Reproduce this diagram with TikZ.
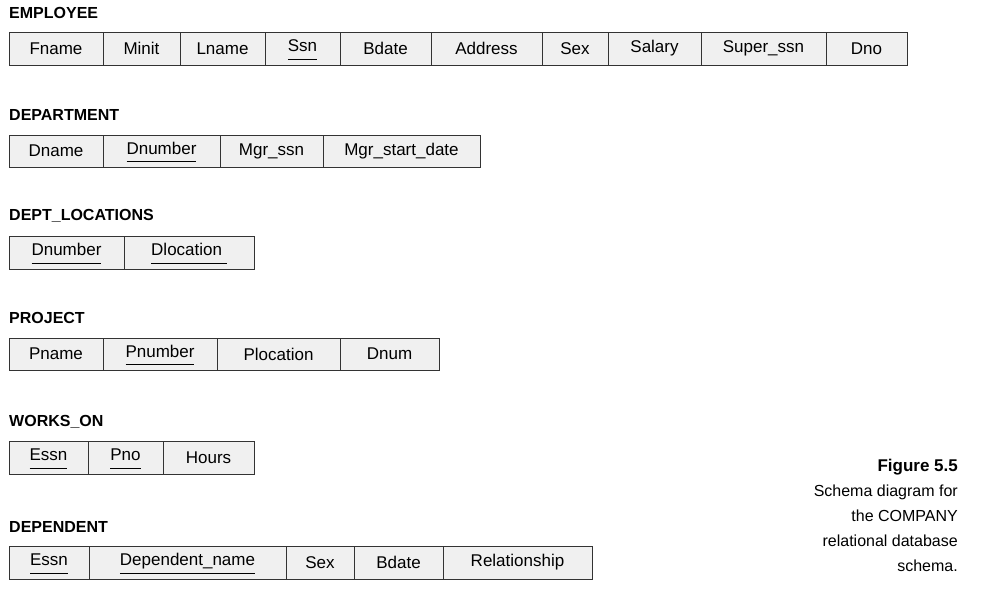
\documentclass[tikz,border=0pt]{standalone}
\usepackage{fontspec}
\setmainfont{Liberation Sans}
\usetikzlibrary{positioning}
\tikzset{
  cell/.style={draw=black!80,fill=black!6,line width=0.8pt},
  celltext/.style={font=\fontsize{17}{20}\selectfont,inner sep=0pt},
  title/.style={font=\bfseries\fontsize{16}{19}\selectfont,anchor=west,inner sep=0pt},
  capt/.style={font=\fontsize{16}{25}\selectfont,align=right,anchor=north east,inner sep=0pt}
}
\newcommand{\key}[1]{\underline{#1\strut}}
\begin{document}
\begin{tikzpicture}[x=1pt,y=-1pt]
    \useasboundingbox (0,0) rectangle (984,600);

    % Relation titles
    \node[title] (emp)  at (9,13)  {EMPLOYEE};
    \node[title] (dept) at (9,115) {DEPARTMENT};
    \node[title] (dloc) at (9,216) {DEPT\_LOCATIONS};
    \node[title] (proj) at (9,318) {PROJECT};
    \node[title] (work) at (9,422) {WORKS\_ON};
    \node[title] (depd) at (9,527) {DEPENDENT};

    % Rows of attributes: left/right edge/text
    \foreach \xa/\xb/\txt [count=\i] in {9/103/Fname,103/180/Minit,180/265/Lname,
        265/340/\key{Ssn},340/431/Bdate,431/542/Address,542/608/Sex,
        608/701/Salary,701/826/Super\_ssn,826/907/Dno} {
        \draw[cell] (\xa,32) rectangle (\xb,65);
        \node[celltext] (emp\i) at ({(\xa+\xb)/2},48.5) {\txt};
    }
    \foreach \xa/\xb/\txt [count=\i] in {9/103/Dname,103/220/\key{Dnumber},
        220/323/Mgr\_ssn,323/480/Mgr\_start\_date} {
        \draw[cell] (\xa,135) rectangle (\xb,167);
        \node[celltext] (dept\i) at ({(\xa+\xb)/2},151) {\txt};
    }
    \foreach \xa/\xb/\txt [count=\i] in {9/124/\key{Dnumber},124/254/\key{Dlocation\ }} {
        \draw[cell] (\xa,236) rectangle (\xb,269);
        \node[celltext] (dloc\i) at ({(\xa+\xb)/2},252.5) {\txt};
    }
    \foreach \xa/\xb/\txt [count=\i] in {9/103/Pname,103/217/\key{Pnumber},
        217/340/Plocation,340/439/Dnum} {
        \draw[cell] (\xa,338) rectangle (\xb,370);
        \node[celltext] (proj\i) at ({(\xa+\xb)/2},354) {\txt};
    }
    \foreach \xa/\xb/\txt [count=\i] in {9/88/\key{Essn},88/163/\key{Pno},163/254/Hours} {
        \draw[cell] (\xa,441) rectangle (\xb,474);
        \node[celltext] (work\i) at ({(\xa+\xb)/2},457.5) {\txt};
    }
    \foreach \xa/\xb/\txt [count=\i] in {9/89/\key{Essn},89/286/\key{Dependent\_name},
        286/354/Sex,354/443/Bdate,443/592/Relationship} {
        \draw[cell] (\xa,546) rectangle (\xb,579);
        \node[celltext] (depd\i) at ({(\xa+\xb)/2},562.5) {\txt};
    }

    % Caption
    \node[capt] (cap) at (958,459)
        {{\bfseries\fontsize{17}{20}\selectfont Figure 5.5}\\Schema diagram for\\
         the COMPANY\\relational database\\schema.};
\end{tikzpicture}
\end{document}
